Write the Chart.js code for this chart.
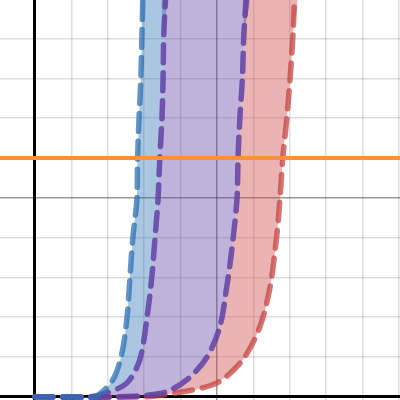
<!DOCTYPE html>
<html>
<head>
<script src="https://cdn.jsdelivr.net/npm/chart.js@4"></script>
<style>
  html, body { margin: 0; padding: 0; background: #fff; }
  #wrap { width: 400px; height: 400px; }
</style>
</head>
<body>
<div id="wrap"><canvas id="c"></canvas></div>
<script>
  // curve points, [x, y]
  const blueCurve = [[0, 0], [1.0, 0], [1.65, 0], [2.14, 0.43], [2.39, 1.1], [2.53, 2.0], [2.61, 3.0], [2.69, 4.0], [2.8, 4.95], [2.82, 6.0], [2.86, 7.0], [2.91, 8.0], [2.94, 9.1], [2.97, 10.2]];
  const purpleLeft = [[0, 0], [1.5, 0], [1.98, 0.1], [2.53, 0.35], [2.88, 0.93], [3.08, 2.0], [3.21, 3.0], [3.3, 4.0], [3.38, 4.95], [3.43, 6.0], [3.49, 7.0], [3.52, 8.0], [3.54, 9.1], [3.6, 10.2]];
  const purpleRight = [[0, 0], [2.2, 0], [3.52, 0.1], [4.18, 0.43], [4.73, 1.0], [5.08, 1.76], [5.27, 2.76], [5.41, 3.7], [5.55, 4.95], [5.58, 6.0], [5.63, 7.0], [5.7, 8.0], [5.74, 9.1], [5.82, 10.2]];
  const redCurve = [[0, 0], [3.0, 0], [3.9, 0.1], [5.0, 0.35], [5.71, 0.93], [6.18, 1.76], [6.46, 2.76], [6.65, 4.1], [6.73, 4.95], [6.81, 6.0], [6.92, 7.0], [7.01, 8.0], [7.09, 9.1], [7.14, 10.2]];
  const orangeLine = [[-1, 6], [10.1, 6]];
  const xTicks = [0, 1, 2, 3, 4, 5, 6, 7, 8, 9, 10];
  const yTicks = [0, 1, 2, 3, 4, 5, 6, 7, 8, 9];

  const pts = a => a.map(([x, y]) => ({ x, y }));
  const TENSION = 0.3;

  function curve(data, color) {
    return {
      data: pts(data),
      borderColor: color,
      borderWidth: 5.5,
      borderDash: [18, 10],
      borderCapStyle: 'round',
      fill: false,
      pointRadius: 0,
      tension: TENSION
    };
  }

  // region between two curves: one curve up, the other back down
  function band(a, b, color) {
    return {
      data: pts(a.concat(b.slice().reverse())),
      borderWidth: 0,
      borderColor: 'transparent',
      backgroundColor: color,
      fill: 'shape',
      pointRadius: 0,
      tension: TENSION
    };
  }

  const gridColor = ctx => {
    const v = ctx.tick.value;
    if (v === 0) return '#000';
    if (v === 5) return 'rgba(0,0,0,0.4)';
    return 'rgba(0,0,0,0.13)';
  };
  const gridWidth = ctx => (ctx.tick.value === 0 ? 3 : 1.5);

  new Chart(document.getElementById('c'), {
    type: 'line',
    data: {
      datasets: [
        {
          data: pts(orangeLine),
          borderColor: '#fa8f3c',
          borderWidth: 4,
          pointRadius: 0,
          fill: false
        },
        curve(blueCurve, 'rgba(45,112,179,0.75)'),
        curve(purpleLeft, 'rgba(96,66,166,0.85)'),
        curve(purpleRight, 'rgba(96,66,166,0.85)'),
        curve(redCurve, 'rgba(199,68,64,0.75)'),
        band(blueCurve, purpleLeft, 'rgba(45,112,179,0.4)'),
        band(purpleLeft, purpleRight, 'rgba(96,66,166,0.4)'),
        band(purpleRight, redCurve, 'rgba(199,68,64,0.4)')
      ]
    },
    options: {
      responsive: true,
      maintainAspectRatio: false,
      animation: false,
      layout: { padding: 0 },
      plugins: { legend: { display: false }, tooltip: { enabled: false } },
      scales: {
        x: {
          type: 'linear', min: -0.96, max: 10.03,
          afterBuildTicks: s => { s.ticks = xTicks.map(value => ({ value })); },
          ticks: { display: false },
          border: { display: false },
          grid: { color: gridColor, lineWidth: gridWidth, drawTicks: false }
        },
        y: {
          type: 'linear', min: -0.08, max: 9.97,
          afterBuildTicks: s => { s.ticks = yTicks.map(value => ({ value })); },
          ticks: { display: false },
          border: { display: false },
          grid: { color: gridColor, lineWidth: gridWidth, drawTicks: false }
        }
      }
    }
  });
</script>
</body>
</html>
